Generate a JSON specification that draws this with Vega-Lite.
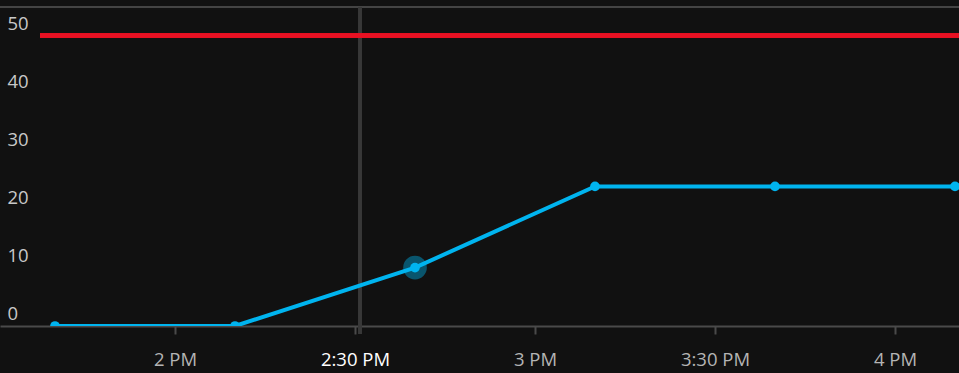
{
  "$schema": "https://vega.github.io/schema/vega-lite/v6.json",
  "width": 959,
  "height": 319,
  "autosize": {"type": "none"},
  "padding": {"left": 0, "top": 7, "right": 0, "bottom": 47},
  "background": "#111111",
  "config": {
    "view": {"stroke": null},
    "font": "Open Sans"
  },
  "data": {
    "values": [
      {"time": "2024-01-01T13:40:00", "value": -2.07},
      {"time": "2024-01-01T14:10:00", "value": -2.07},
      {"time": "2024-01-01T14:40:00", "value": 8},
      {"time": "2024-01-01T15:10:00", "value": 22},
      {"time": "2024-01-01T15:40:00", "value": 22},
      {"time": "2024-01-01T16:10:00", "value": 22}
    ],
    "format": {"parse": {"time": "date"}}
  },
  "encoding": {
    "x": {
      "field": "time",
      "type": "temporal",
      "scale": {
        "domain": [
          {"year": 2024, "month": 1, "date": 1, "hours": 13, "minutes": 30, "seconds": 50},
          {"year": 2024, "month": 1, "date": 1, "hours": 16, "minutes": 10, "seconds": 40}
        ]
      },
      "axis": {
        "title": null,
        "values": [
          {"year": 2024, "month": 1, "date": 1, "hours": 14, "minutes": 0},
          {"year": 2024, "month": 1, "date": 1, "hours": 14, "minutes": 30},
          {"year": 2024, "month": 1, "date": 1, "hours": 15, "minutes": 0},
          {"year": 2024, "month": 1, "date": 1, "hours": 15, "minutes": 30},
          {"year": 2024, "month": 1, "date": 1, "hours": 16, "minutes": 0}
        ],
        "labelExpr": "minutes(datum.value) == 0 ? timeFormat(datum.value, '%-I %p') : timeFormat(datum.value, '%-I:%M %p')",
        "labelColor": {"condition": {"test": "hours(datum.value) == 14 && minutes(datum.value) == 30", "value": "#ffffff"}, "value": "#b4b4b4"},
        "labelFontSize": 18.5,
        "labelPadding": 16,
        "labelFlush": false,
        "grid": false,
        "domainColor": "#4a4a4a",
        "domainWidth": 2,
        "tickColor": "#4a4a4a",
        "tickWidth": 2,
        "tickSize": 8
      }
    },
    "y": {
      "field": "value",
      "type": "quantitative",
      "scale": {"domain": [-2.07, 52.93], "nice": false, "zero": false},
      "axis": {
        "title": null,
        "values": [0, 10, 20, 30, 40, 50],
        "orient": "left",
        "domain": false,
        "ticks": false,
        "tickSize": 0,
        "grid": false,
        "labelAlign": "left",
        "labelBaseline": "middle",
        "labelPadding": -7,
        "labelColor": "#c8c8c8",
        "labelFontSize": 18.5
      }
    }
  },
  "layer": [
    {
      "mark": {"type": "rule", "color": "#444444", "strokeWidth": 1.5},
      "encoding": {"y": {"datum": 52.93}, "x": null}
    },
    {
      "mark": {"type": "rule", "color": "#383838", "strokeWidth": 3.5},
      "encoding": {
        "x": {"datum": {"year": 2024, "month": 1, "date": 1, "hours": 14, "minutes": 30, "seconds": 50}, "type": "temporal"},
        "y": {"datum": -3.45},
        "y2": {"datum": 52.93}
      }
    },
    {
      "mark": {"type": "rule", "color": "#e81123", "strokeWidth": 4},
      "encoding": {
        "y": {"datum": 48},
        "x": {"datum": {"year": 2024, "month": 1, "date": 1, "hours": 13, "minutes": 37, "seconds": 30}, "type": "temporal"},
        "x2": {"datum": {"year": 2024, "month": 1, "date": 1, "hours": 16, "minutes": 10, "seconds": 40}}
      }
    },
    {
      "transform": [{"filter": "hours(datum.time) == 14 && minutes(datum.time) == 40"}],
      "mark": {"type": "point", "filled": true, "color": "#00b4ef", "size": 560, "opacity": 0.42},
      "encoding": {}
    },
    {
      "mark": {"type": "line", "color": "#00b4ef", "strokeWidth": 4, "clip": true},
      "encoding": {}
    },
    {
      "mark": {"type": "point", "filled": true, "color": "#00b4ef", "size": 95, "opacity": 1, "clip": true},
      "encoding": {}
    }
  ]
}
